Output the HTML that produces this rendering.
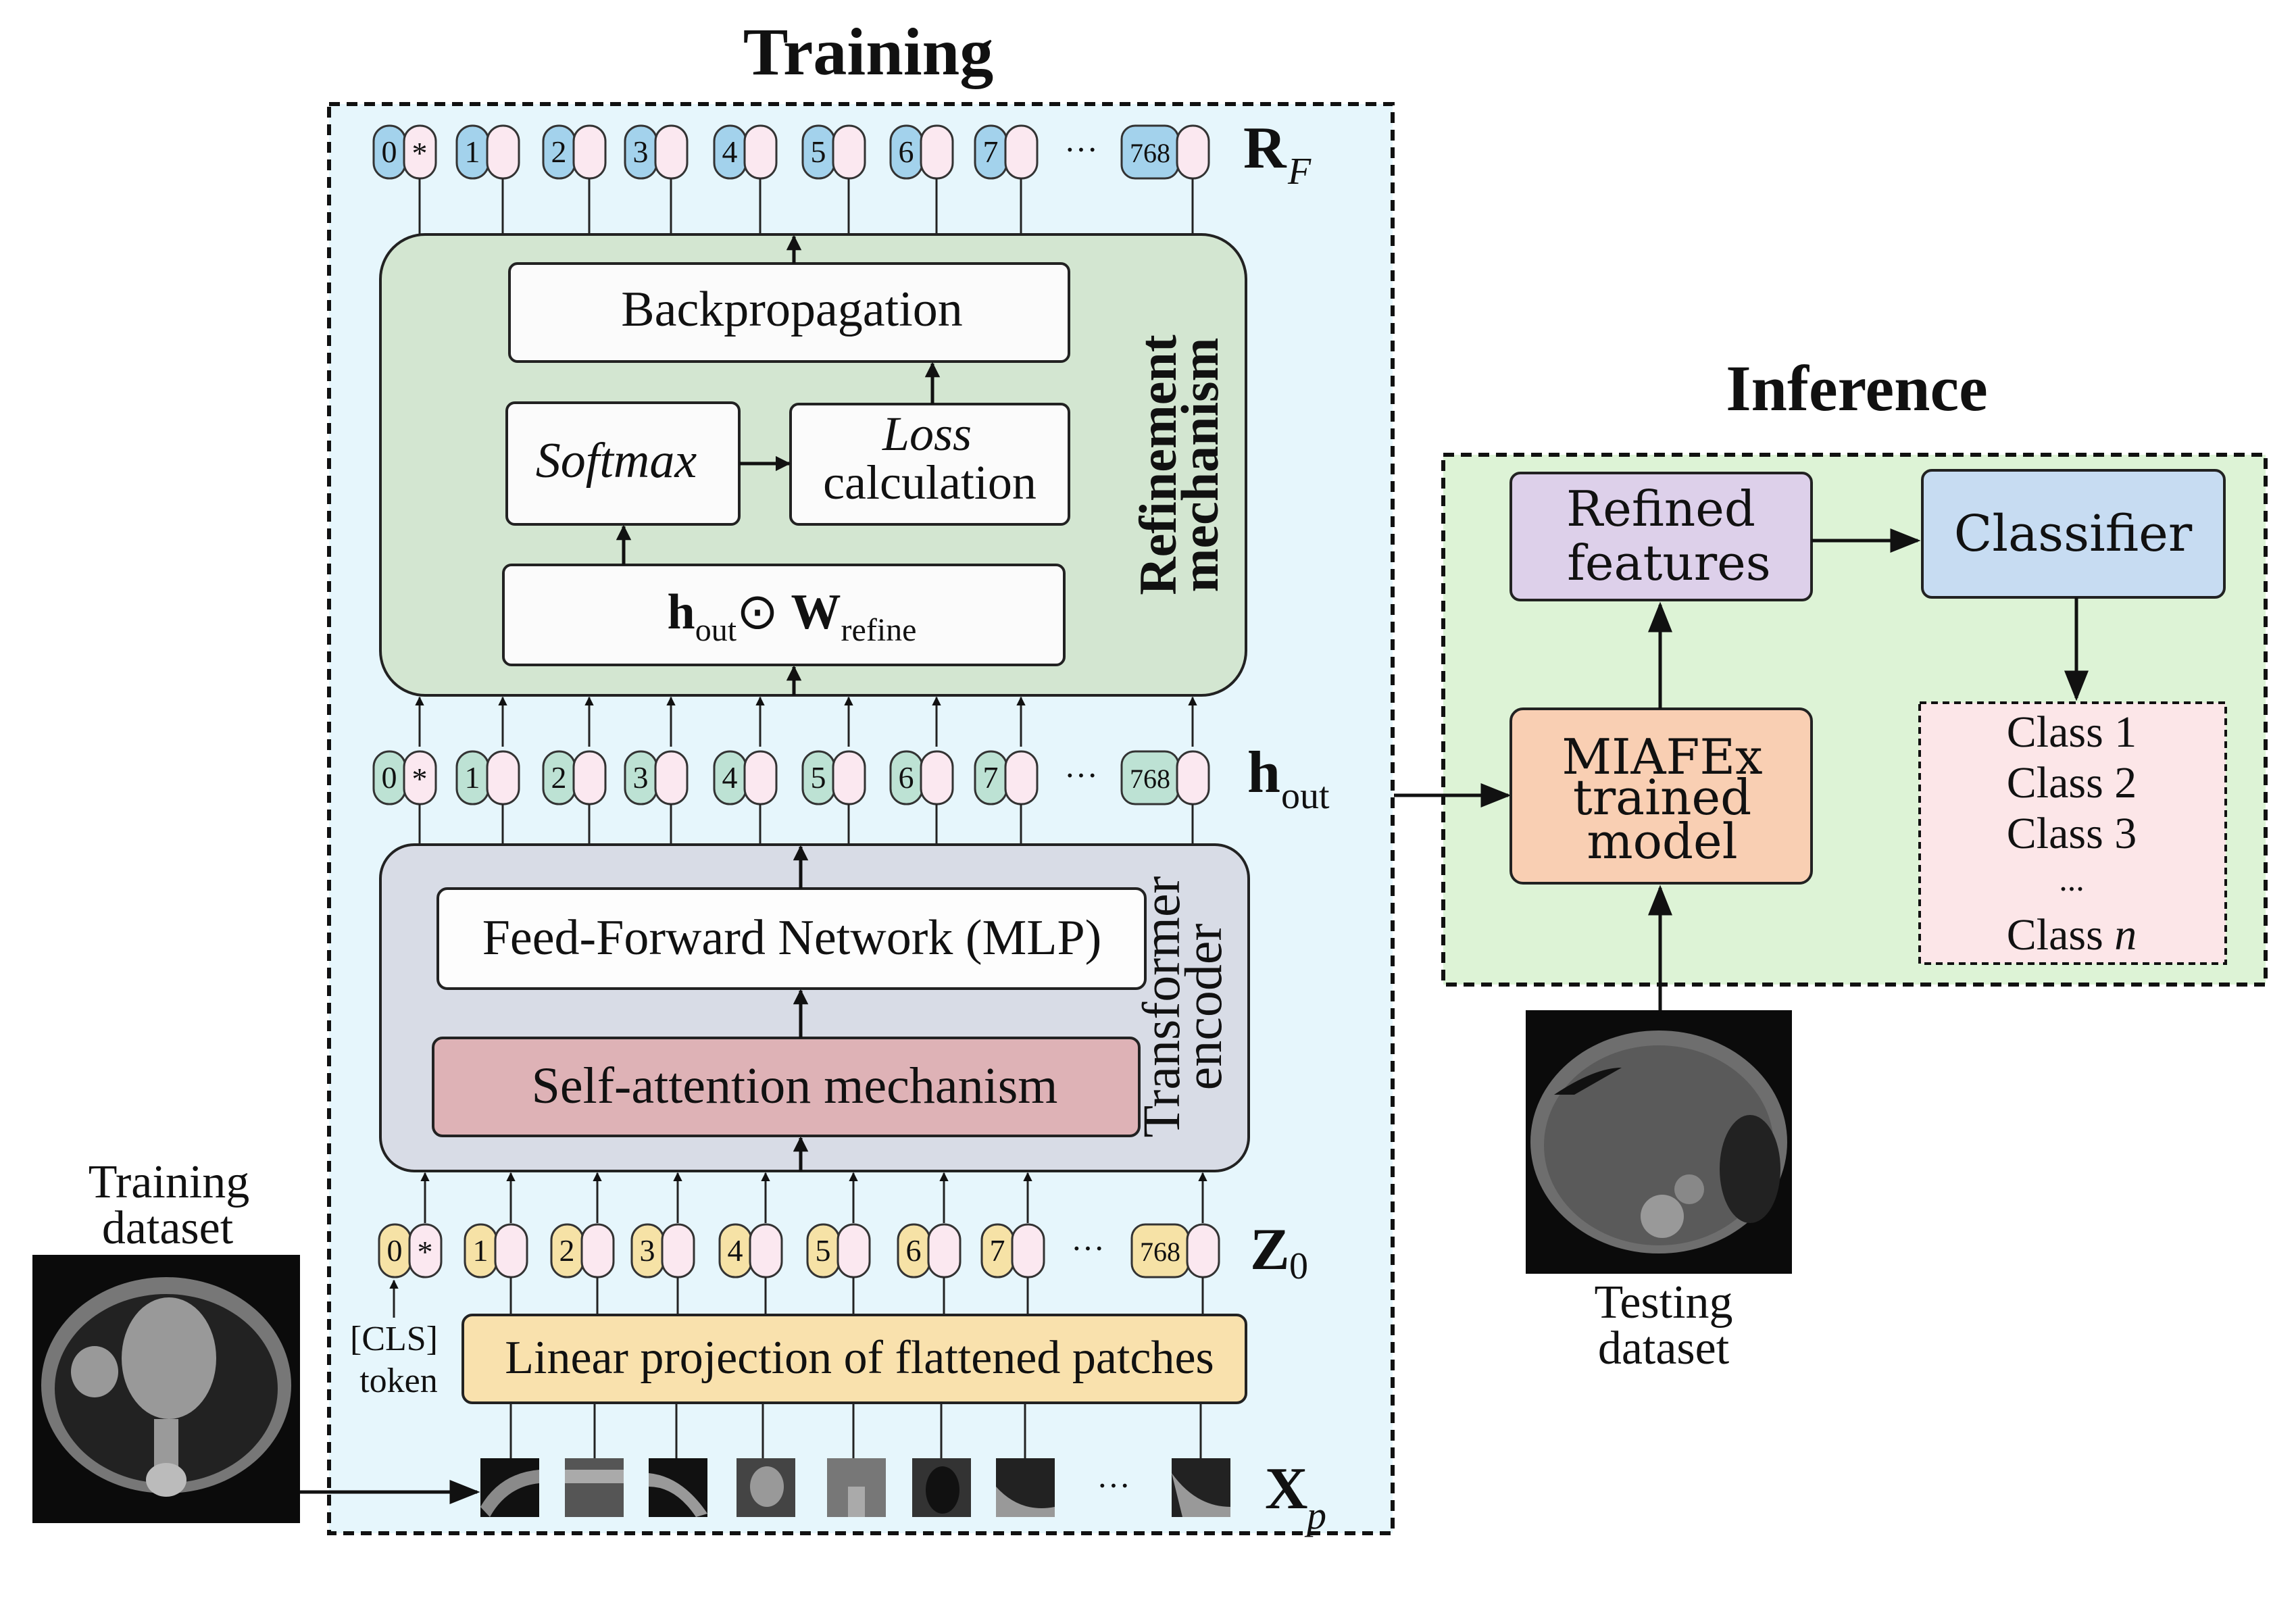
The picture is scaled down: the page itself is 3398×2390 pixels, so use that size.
<!DOCTYPE html>
<html><head><meta charset="utf-8"><style>
html,body{margin:0;padding:0;background:#fff;}
svg{display:block;}
text{font-family:"Liberation Serif",serif;fill:#111;}
.dv{font-family:"DejaVu Serif","Liberation Serif",serif;}
.b{fill:#a3d2ec;stroke:#333;stroke-width:3}
.g{fill:#bde2d4;stroke:#333;stroke-width:3}
.y{fill:#f6e2a6;stroke:#333;stroke-width:3}
.p{fill:#fbe8f0;stroke:#333;stroke-width:3}
.tk{font-size:46px;text-anchor:middle}
.ln{stroke:#222;stroke-width:3;fill:none}
.ar{stroke:#111;stroke-width:5;fill:none}
.box{stroke:#222;stroke-width:4}
</style></head><body>
<svg width="3398" height="2390" viewBox="0 0 3398 2390" xmlns="http://www.w3.org/2000/svg">
<defs>
<marker id="a" viewBox="0 0 10 10" refX="9" refY="5" markerWidth="4.5" markerHeight="4.5" orient="auto-start-reverse"><path d="M0,0 L10,5 L0,10 z" fill="#111"/></marker>
<marker id="s" viewBox="0 0 10 10" refX="9" refY="5" markerWidth="9" markerHeight="9" orient="auto"><path d="M0,1 L10,5 L0,9 z" fill="#111"/></marker>
</defs>

<!-- Training -->
<text x="1285" y="110" font-size="100" font-weight="bold" text-anchor="middle">Training</text>
<rect x="487" y="154" width="1574" height="2115" fill="#e6f6fc" stroke="#111" stroke-width="6" stroke-dasharray="16,10"/>

<!-- RF tokens -->
<g transform="translate(0,186)">
<rect class="b" x="553" y="0" width="47" height="78" rx="23"/><rect class="p" x="598" y="0" width="47" height="78" rx="23"/>
<rect class="b" x="676" y="0" width="47" height="78" rx="23"/><rect class="p" x="721" y="0" width="47" height="78" rx="23"/>
<rect class="b" x="804" y="0" width="47" height="78" rx="23"/><rect class="p" x="849" y="0" width="47" height="78" rx="23"/>
<rect class="b" x="925" y="0" width="47" height="78" rx="23"/><rect class="p" x="970" y="0" width="47" height="78" rx="23"/>
<rect class="b" x="1057" y="0" width="47" height="78" rx="23"/><rect class="p" x="1102" y="0" width="47" height="78" rx="23"/>
<rect class="b" x="1188" y="0" width="47" height="78" rx="23"/><rect class="p" x="1233" y="0" width="47" height="78" rx="23"/>
<rect class="b" x="1318" y="0" width="47" height="78" rx="23"/><rect class="p" x="1363" y="0" width="47" height="78" rx="23"/>
<rect class="b" x="1443" y="0" width="47" height="78" rx="23"/><rect class="p" x="1488" y="0" width="47" height="78" rx="23"/>
<rect class="b" x="1660" y="0" width="84" height="78" rx="20"/><rect class="p" x="1742" y="0" width="47" height="78" rx="23"/>
<text class="tk" x="576" y="54">0</text><text class="tk" x="621" y="56" font-size="36">*</text>
<text class="tk" x="699" y="54">1</text><text class="tk" x="827" y="54">2</text><text class="tk" x="948" y="54">3</text><text class="tk" x="1080" y="54">4</text><text class="tk" x="1211" y="54">5</text><text class="tk" x="1341" y="54">6</text><text class="tk" x="1466" y="54">7</text>
<text x="1702" y="54" font-size="40" text-anchor="middle">768</text>
<text x="1600" y="52" font-size="50" text-anchor="middle">···</text>
</g>
<text x="1840" y="248" font-size="88" font-weight="bold">R</text><text x="1906" y="272" font-size="56" font-style="italic">F</text>
<g class="ln">
<path d="M621 264V347M744 264V347M872 264V347M993 264V347M1125 264V347M1256 264V347M1386 264V347M1511 264V347M1765 264V347"/>
</g>

<!-- Refinement -->
<rect x="563" y="347" width="1281" height="682" rx="66" fill="#d3e6d1" stroke="#222" stroke-width="4"/>
<rect class="box" x="754" y="390" width="828" height="145" rx="12" fill="#fbfbfb"/>
<text x="1172" y="482" font-size="74" text-anchor="middle">Backpropagation</text>
<rect class="box" x="750" y="596" width="344" height="180" rx="12" fill="#fbfbfb"/>
<text x="912" y="706" font-size="74" font-style="italic" text-anchor="middle">Softmax</text>
<rect class="box" x="1170" y="598" width="412" height="178" rx="12" fill="#fbfbfb"/>
<text x="1372" y="666" font-size="72" font-style="italic" text-anchor="middle">Loss</text>
<text x="1376" y="738" font-size="72" text-anchor="middle">calculation</text>
<rect class="box" x="745" y="836" width="830" height="148" rx="12" fill="#fbfbfb"/>
<text x="1172" y="930" font-size="74" text-anchor="middle"><tspan font-weight="bold">h</tspan><tspan font-size="48" dy="18">out</tspan><tspan dy="-18">⊙ </tspan><tspan font-weight="bold">W</tspan><tspan font-size="48" dy="18">refine</tspan></text>
<text transform="translate(1740,688) rotate(-90)" font-size="78" font-weight="bold" text-anchor="middle"><tspan x="0" y="0">Refinement</tspan><tspan x="0" y="62">mechanism</tspan></text>
<g class="ar" marker-end="url(#a)">
<path d="M1175 390V350"/><path d="M1380 598V538"/><path d="M1094 686H1168"/><path d="M923 836V779"/><path d="M1175 1029V987"/>
</g>
<g class="ln" marker-end="url(#a)">
<path d="M621 1105V1032"/><path d="M744 1105V1032"/><path d="M872 1105V1032"/><path d="M993 1105V1032"/><path d="M1125 1105V1032"/><path d="M1256 1105V1032"/><path d="M1386 1105V1032"/><path d="M1511 1105V1032"/><path d="M1765 1105V1032"/>
</g>

<!-- hout tokens -->
<g transform="translate(0,1112)">
<rect class="g" x="553" y="0" width="47" height="78" rx="23"/><rect class="p" x="598" y="0" width="47" height="78" rx="23"/>
<rect class="g" x="676" y="0" width="47" height="78" rx="23"/><rect class="p" x="721" y="0" width="47" height="78" rx="23"/>
<rect class="g" x="804" y="0" width="47" height="78" rx="23"/><rect class="p" x="849" y="0" width="47" height="78" rx="23"/>
<rect class="g" x="925" y="0" width="47" height="78" rx="23"/><rect class="p" x="970" y="0" width="47" height="78" rx="23"/>
<rect class="g" x="1057" y="0" width="47" height="78" rx="23"/><rect class="p" x="1102" y="0" width="47" height="78" rx="23"/>
<rect class="g" x="1188" y="0" width="47" height="78" rx="23"/><rect class="p" x="1233" y="0" width="47" height="78" rx="23"/>
<rect class="g" x="1318" y="0" width="47" height="78" rx="23"/><rect class="p" x="1363" y="0" width="47" height="78" rx="23"/>
<rect class="g" x="1443" y="0" width="47" height="78" rx="23"/><rect class="p" x="1488" y="0" width="47" height="78" rx="23"/>
<rect class="g" x="1660" y="0" width="84" height="78" rx="20"/><rect class="p" x="1742" y="0" width="47" height="78" rx="23"/>
<text class="tk" x="576" y="54">0</text><text class="tk" x="621" y="56" font-size="36">*</text>
<text class="tk" x="699" y="54">1</text><text class="tk" x="827" y="54">2</text><text class="tk" x="948" y="54">3</text><text class="tk" x="1080" y="54">4</text><text class="tk" x="1211" y="54">5</text><text class="tk" x="1341" y="54">6</text><text class="tk" x="1466" y="54">7</text>
<text x="1702" y="54" font-size="40" text-anchor="middle">768</text>
<text x="1600" y="52" font-size="50" text-anchor="middle">···</text>
</g>
<text x="1846" y="1172" font-size="88" font-weight="bold">h</text><text x="1896" y="1196" font-size="56">out</text>
<g class="ln">
<path d="M621 1190V1250M744 1190V1250M872 1190V1250M993 1190V1250M1125 1190V1250M1256 1190V1250M1386 1190V1250M1511 1190V1250M1765 1190V1250"/>
</g>

<!-- Transformer -->
<rect x="563" y="1250" width="1285" height="483" rx="50" fill="#d8dce6" stroke="#222" stroke-width="4"/>
<rect class="box" x="648" y="1315" width="1047" height="148" rx="14" fill="#fdfdfd"/>
<text x="1172" y="1412" font-size="74" text-anchor="middle">Feed-Forward Network (MLP)</text>
<rect class="box" x="641" y="1536" width="1045" height="145" rx="14" fill="#deb2b6"/>
<text x="1176" y="1632" font-size="76" text-anchor="middle">Self-attention mechanism</text>
<text transform="translate(1745,1490) rotate(-90)" font-size="78" text-anchor="middle"><tspan x="0" y="0">Transformer</tspan><tspan x="0" y="62">encoder</tspan></text>
<g class="ar" marker-end="url(#a)">
<path d="M1185 1315V1253"/><path d="M1185 1536V1466"/><path d="M1185 1733V1684"/>
</g>
<g class="ln" marker-end="url(#a)">
<path d="M629 1810V1736"/><path d="M756 1810V1736"/><path d="M884 1810V1736"/><path d="M1003 1810V1736"/><path d="M1133 1810V1736"/><path d="M1263 1810V1736"/><path d="M1397 1810V1736"/><path d="M1521 1810V1736"/><path d="M1780 1810V1736"/>
</g>

<!-- Z0 tokens -->
<g transform="translate(0,1812)">
<rect class="y" x="561" y="0" width="47" height="78" rx="23"/><rect class="p" x="606" y="0" width="47" height="78" rx="23"/>
<rect class="y" x="688" y="0" width="47" height="78" rx="23"/><rect class="p" x="733" y="0" width="47" height="78" rx="23"/>
<rect class="y" x="816" y="0" width="47" height="78" rx="23"/><rect class="p" x="861" y="0" width="47" height="78" rx="23"/>
<rect class="y" x="935" y="0" width="47" height="78" rx="23"/><rect class="p" x="980" y="0" width="47" height="78" rx="23"/>
<rect class="y" x="1065" y="0" width="47" height="78" rx="23"/><rect class="p" x="1110" y="0" width="47" height="78" rx="23"/>
<rect class="y" x="1195" y="0" width="47" height="78" rx="23"/><rect class="p" x="1240" y="0" width="47" height="78" rx="23"/>
<rect class="y" x="1329" y="0" width="47" height="78" rx="23"/><rect class="p" x="1374" y="0" width="47" height="78" rx="23"/>
<rect class="y" x="1453" y="0" width="47" height="78" rx="23"/><rect class="p" x="1498" y="0" width="47" height="78" rx="23"/>
<rect class="y" x="1675" y="0" width="84" height="78" rx="20"/><rect class="p" x="1757" y="0" width="47" height="78" rx="23"/>
<text class="tk" x="584" y="54">0</text><text class="tk" x="629" y="56" font-size="36">*</text>
<text class="tk" x="711" y="54">1</text><text class="tk" x="839" y="54">2</text><text class="tk" x="958" y="54">3</text><text class="tk" x="1088" y="54">4</text><text class="tk" x="1218" y="54">5</text><text class="tk" x="1352" y="54">6</text><text class="tk" x="1476" y="54">7</text>
<text x="1717" y="54" font-size="40" text-anchor="middle">768</text>
<text x="1610" y="52" font-size="50" text-anchor="middle">···</text>
</g>
<text x="1850" y="1878" font-size="88" font-weight="bold">Z</text><text x="1908" y="1892" font-size="56">0</text>

<path class="ln" d="M583 1950V1895" marker-end="url(#a)"/>
<text x="583" y="1998" font-size="52" text-anchor="middle">[CLS]</text>
<text x="590" y="2060" font-size="52" text-anchor="middle">token</text>
<g class="ln">
<path d="M756 1890V1946M884 1890V1946M1003 1890V1946M1133 1890V1946M1263 1890V1946M1397 1890V1946M1521 1890V1946M1780 1890V1946"/>
<path d="M756 2076V2158M880 2076V2158M1001 2076V2158M1129 2076V2158M1263 2076V2158M1393 2076V2158M1517 2076V2158M1777 2076V2158"/>
</g>
<rect class="box" x="685" y="1946" width="1159" height="130" rx="14" fill="#f9e1ad" stroke-width="3"/>
<text x="1272" y="2032" font-size="70" text-anchor="middle">Linear projection of flattened patches</text>

<!-- patches -->
<g>
<rect x="711" y="2158" width="87" height="87" fill="#111"/><path d="M711 2230 Q740 2180 798 2175 L798 2195 Q750 2200 725 2245 Z" fill="#8a8a8a"/>
<rect x="836" y="2158" width="87" height="87" fill="#555"/><rect x="836" y="2175" width="87" height="20" fill="#aaa"/>
<rect x="960" y="2158" width="87" height="87" fill="#111"/><path d="M960 2180 Q1010 2185 1047 2240 L1030 2245 Q1000 2200 960 2200Z" fill="#999"/>
<rect x="1090" y="2158" width="87" height="87" fill="#444"/><ellipse cx="1135" cy="2200" rx="25" ry="30" fill="#999"/>
<rect x="1224" y="2158" width="87" height="87" fill="#777"/><rect x="1255" y="2200" width="25" height="45" fill="#aaa"/>
<rect x="1350" y="2158" width="87" height="87" fill="#333"/><ellipse cx="1395" cy="2205" rx="25" ry="35" fill="#111"/>
<rect x="1474" y="2158" width="87" height="87" fill="#222"/><path d="M1474 2200 Q1510 2240 1561 2230 L1561 2245 L1474 2245Z" fill="#999"/>
<rect x="1734" y="2158" width="87" height="87" fill="#222"/><path d="M1734 2180 Q1770 2230 1821 2230 L1821 2245 L1750 2245Z" fill="#999"/>
<text x="1648" y="2215" font-size="50" text-anchor="middle">···</text>
</g>
<text x="1872" y="2232" font-size="88" font-weight="bold">X</text><text x="1934" y="2262" font-size="58" font-style="italic">p</text>

<!-- training dataset image -->
<text x="250" y="1772" font-size="70" text-anchor="middle">Training</text>
<text x="248" y="1840" font-size="70" text-anchor="middle">dataset</text>
<rect x="48" y="1857" width="396" height="397" fill="#0b0b0b"/>
<ellipse cx="246" cy="2050" rx="185" ry="160" fill="#777"/>
<ellipse cx="246" cy="2055" rx="165" ry="140" fill="#222"/>
<ellipse cx="250" cy="2010" rx="70" ry="90" fill="#999"/>
<ellipse cx="140" cy="2030" rx="35" ry="38" fill="#999"/>
<rect x="228" y="2100" width="36" height="110" fill="#9a9a9a"/>
<ellipse cx="246" cy="2190" rx="30" ry="25" fill="#bbb"/>
<path class="ar" d="M444 2208H706" marker-end="url(#s)"/>

<!-- Inference -->
<text x="2748" y="607" font-size="96" font-weight="bold" text-anchor="middle">Inference</text>
<rect x="2136" y="673" width="1217" height="784" fill="#ddf3d6" stroke="#111" stroke-width="6" stroke-dasharray="16,10"/>
<!-- connector to inference -->
<path class="ar" d="M2063 1177H2232" marker-end="url(#s)"/>
<rect class="box" x="2236" y="700" width="445" height="188" rx="14" fill="#ddd0ea"/>
<text class="dv" x="2458" y="778" font-size="72" text-anchor="middle">Refined</text>
<text class="dv" x="2470" y="858" font-size="72" text-anchor="middle">features</text>
<rect class="box" x="2845" y="696" width="447" height="188" rx="14" fill="#c7dcf2"/>
<text class="dv" x="3068" y="815" font-size="74" text-anchor="middle">Classifier</text>
<rect class="box" x="2236" y="1049" width="445" height="258" rx="18" fill="#f9cfb3"/>
<text class="dv" x="2460" y="1145" font-size="72" text-anchor="middle">MIAFEx</text>
<text class="dv" x="2460" y="1205" font-size="72" text-anchor="middle">trained</text>
<text class="dv" x="2460" y="1270" font-size="72" text-anchor="middle">model</text>
<rect x="2841" y="1040" width="453" height="386" fill="#fce6e8" stroke="#111" stroke-width="4" stroke-dasharray="10,7"/>
<g class="dv" font-size="66" text-anchor="middle">
<text x="3066" y="1105">Class 1</text>
<text x="3066" y="1180">Class 2</text>
<text x="3066" y="1255">Class 3</text>
<text x="3066" y="1318" font-size="50">...</text>
<text x="3066" y="1405">Class <tspan font-style="italic">n</tspan></text>
</g>
<g class="ar" marker-end="url(#s)">
<path d="M2681 800H2838"/><path d="M3073 884V1033"/><path d="M2457 1049V895"/><path d="M2457 1495V1314"/>
</g>

<!-- test image -->
<rect x="2258" y="1495" width="394" height="390" fill="#0b0b0b"/>
<ellipse cx="2455" cy="1690" rx="190" ry="165" fill="#6e6e6e"/>
<ellipse cx="2455" cy="1695" rx="170" ry="148" fill="#5a5a5a"/>
<path d="M2300 1620 Q2360 1580 2400 1580 L2330 1620Z" fill="#111"/>
<ellipse cx="2590" cy="1730" rx="45" ry="80" fill="#222"/>
<ellipse cx="2460" cy="1800" rx="32" ry="32" fill="#999"/>
<ellipse cx="2500" cy="1760" rx="22" ry="22" fill="#888"/>
<text x="2462" y="1950" font-size="70" text-anchor="middle">Testing</text>
<text x="2462" y="2018" font-size="70" text-anchor="middle">dataset</text>
</svg>
</body></html>
